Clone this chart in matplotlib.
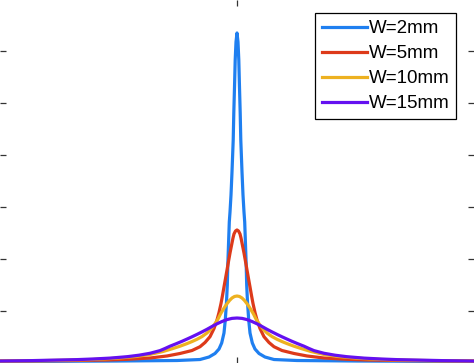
import numpy as np
import matplotlib.pyplot as plt

plt.rcParams['font.family'] = ['Liberation Sans', 'DejaVu Sans']

labels = ["W=2mm", "W=5mm", "W=10mm", "W=15mm"]
colors = ["#1f7ff0", "#dd3a1a", "#edb120", "#6410f0"]

# half profiles (x >= 0), mirrored below
x_2mm = [0, 0.042, 0.076, 0.105, 0.135, 0.160, 0.211, 0.253, 0.295, 0.325, 0.359, 0.388,
         0.409, 0.443, 0.494, 0.549, 0.646, 0.759, 0.928, 1.181, 1.561, 2.532, 5.063, 10.0]
y_2mm = [6.346, 6.173, 5.827, 5.308, 4.808, 4.288, 3.673, 3.231, 2.904, 2.712, 2.269, 1.885,
         1.5, 1.173, 0.827, 0.577, 0.385, 0.269, 0.183, 0.115, 0.067, 0.048, 0.038, 0.029]

x_5mm = [0, 0.063, 0.127, 0.169, 0.211, 0.253, 0.295, 0.359, 0.422, 0.485, 0.549, 0.612,
         0.675, 0.759, 0.844, 0.970, 1.139, 1.350, 1.561, 1.899, 2.405, 2.954, 3.671, 4.641,
         5.485, 7.173, 10.0]
y_5mm = [2.558, 2.538, 2.481, 2.404, 2.308, 2.212, 2.115, 1.952, 1.788, 1.625, 1.462, 1.298,
         1.144, 0.971, 0.827, 0.663, 0.506, 0.394, 0.313, 0.240, 0.183, 0.135, 0.096, 0.071,
         0.058, 0.046, 0.038]

x_10mm = [0, 0.105, 0.211, 0.316, 0.409, 0.506, 0.591, 0.696, 0.789, 0.886, 1.013, 1.139,
          1.266, 1.477, 1.688, 1.899, 2.110, 2.405, 2.743, 3.122, 3.671, 4.219, 5.063, 6.118,
          7.173, 8.439, 10.0]
y_10mm = [1.288, 1.279, 1.25, 1.202, 1.148, 1.085, 1.023, 0.942, 0.856, 0.783, 0.704, 0.635,
          0.577, 0.508, 0.456, 0.412, 0.373, 0.323, 0.273, 0.221, 0.165, 0.127, 0.092, 0.067,
          0.054, 0.044, 0.038]

x_15mm = [0, 0.211, 0.422, 0.633, 0.844, 1.055, 1.266, 1.477, 1.688, 1.899, 2.110, 2.321,
          2.574, 2.827, 3.038, 3.249, 3.671, 4.135, 4.641, 5.359, 6.076, 6.751, 7.468, 8.650,
          10.0]
y_15mm = [0.865, 0.858, 0.835, 0.798, 0.754, 0.702, 0.648, 0.598, 0.550, 0.504, 0.460, 0.417,
          0.369, 0.323, 0.279, 0.238, 0.187, 0.150, 0.121, 0.094, 0.077, 0.065, 0.058, 0.046,
          0.038]

series = [(x_2mm, y_2mm), (x_5mm, y_5mm), (x_10mm, y_10mm), (x_15mm, y_15mm)]

fig = plt.figure(figsize=(4.74, 3.63), dpi=100)
ax = fig.add_axes([0, 0, 1, 1])

for (xs, ys), c, lab in zip(series, colors, labels):
    xs = np.array(xs)
    ys = np.array(ys)
    xx = np.concatenate([-xs[::-1], xs[1:]])
    yy = np.concatenate([ys[::-1], ys[1:]])
    ax.plot(xx, yy, color=c, lw=2.3, label=lab, solid_joinstyle="round")

ax.set_xlim(-10, 10)
ax.set_ylim(0, 6.98)
ax.set_xticks([0])
ax.set_yticks([1, 2, 3, 4, 5, 6])
for s in ax.spines.values():
    s.set_visible(False)
ax.tick_params(direction="in", length=4, width=0.9, color="#333333",
               top=True, right=True, labelleft=False, labelbottom=False)

leg = ax.legend(loc="upper right", bbox_to_anchor=(0.962, 0.963), fontsize=13.5,
                handlelength=2.4, handletextpad=0.1, labelspacing=0.42,
                borderpad=0.35, borderaxespad=0, fancybox=False, framealpha=1)
leg.get_frame().set_edgecolor("black")
leg.get_frame().set_linewidth(0.9)

fig.savefig("out.png", dpi=100)
